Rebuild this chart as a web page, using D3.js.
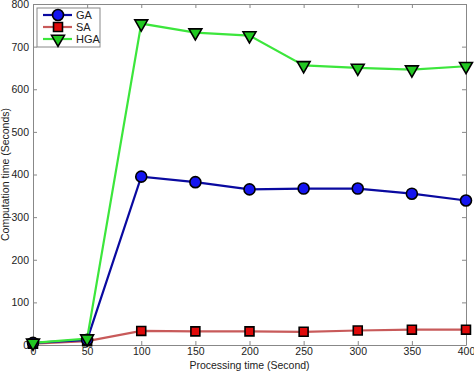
<!DOCTYPE html>
<html>
<head>
<meta charset="utf-8">
<script src="https://cdn.jsdelivr.net/npm/d3@7"></script>
<style>
  body { margin: 0; background: #fff; }
  text { font-family: "Liberation Sans", Arial, sans-serif; }
</style>
</head>
<body>
<div id="chart"></div>
<script>
const xValues = [0, 50, 100, 150, 200, 250, 300, 350, 400];
const gaValues = [5, 12, 395, 382, 365, 367, 367, 355, 339];
const saValues = [3, 9, 33, 32, 32, 31, 34, 36, 36];
const hgaValues = [5, 15, 754, 733, 726, 656, 650, 646, 654];
const xTicks = [0, 50, 100, 150, 200, 250, 300, 350, 400];
const yTicks = [0, 100, 200, 300, 400, 500, 600, 700, 800];

const W = 474, H = 371;
const margin = { top: 4, right: 8, bottom: 26, left: 33 };
const innerW = W - margin.left - margin.right;
const innerH = H - margin.top - margin.bottom;

const svg = d3.select("#chart").append("svg")
  .attr("width", W).attr("height", H);

const g = svg.append("g")
  .attr("transform", `translate(${margin.left},${margin.top})`);

const x = d3.scaleLinear().domain([0, 400]).range([0, innerW]);
const y = d3.scaleLinear().domain([0, 800]).range([innerH, 0]);

const axisColor = "#888";
const tickLen = 4;

// axes, MATLAB-style box with inward ticks
const styleAxis = sel => {
  sel.select(".domain").attr("stroke", axisColor);
  sel.selectAll(".tick line").attr("stroke", axisColor);
  sel.selectAll(".tick text").attr("fill", "#222").style("font-size", "10.5px");
};

g.append("g").attr("transform", `translate(0,${innerH})`)
  .call(d3.axisBottom(x).tickValues(xTicks).tickSizeInner(-tickLen).tickSizeOuter(0).tickPadding(3))
  .call(styleAxis);
g.append("g")
  .call(d3.axisTop(x).tickValues(xTicks).tickSizeInner(-tickLen).tickSizeOuter(0).tickFormat(""))
  .call(styleAxis);
g.append("g")
  .call(d3.axisLeft(y).tickValues(yTicks).tickSizeInner(-tickLen).tickSizeOuter(0).tickPadding(4))
  .call(styleAxis);
g.append("g").attr("transform", `translate(${innerW},0)`)
  .call(d3.axisRight(y).tickValues(yTicks).tickSizeInner(-tickLen).tickSizeOuter(0).tickFormat(""))
  .call(styleAxis);

// axis titles
svg.append("text")
  .attr("x", margin.left + innerW / 2).attr("y", H - 2)
  .attr("text-anchor", "middle").style("font-size", "10.5px").attr("fill", "#222")
  .text("Processing time (Second)");
svg.append("text")
  .attr("transform", `translate(9,${margin.top + innerH / 2}) rotate(-90)`)
  .attr("text-anchor", "middle").style("font-size", "10.5px").attr("fill", "#222")
  .text("Computation time (Seconds)");

const series = [
  { name: "GA", values: gaValues, line: "#0a0aa0", fill: "#1515f0", symbol: d3.symbolCircle, size: 95, rot: 0 },
  { name: "SA", values: saValues, line: "#c85a5a", fill: "#e00a0a", symbol: d3.symbolSquare, size: 80, rot: 0 },
  { name: "HGA", values: hgaValues, line: "#3ce63c", fill: "#22c822", symbol: d3.symbolTriangle, size: 72, rot: 180 }
];

const line = d3.line().x((d, i) => x(xValues[i])).y(d => y(d));

const drawOrder = [series[1], series[0], series[2]];
drawOrder.forEach(s => {
  g.append("path").datum(s.values)
    .attr("fill", "none").attr("stroke", s.line).attr("stroke-width", 2.2)
    .attr("d", line);
});
drawOrder.forEach(s => {
  g.selectAll(null).data(s.values).join("path")
    .attr("transform", (d, i) => `translate(${x(xValues[i])},${y(d)}) rotate(${s.rot})`)
    .attr("d", d3.symbol().type(s.symbol).size(s.size))
    .attr("fill", s.fill).attr("stroke", "#000").attr("stroke-width", 1.6);
});

// legend
const lg = g.append("g").attr("transform", "translate(4,4)");
lg.append("rect").attr("width", 63).attr("height", 39)
  .attr("fill", "#fff").attr("stroke", axisColor);
series.forEach((s, i) => {
  const ly = 7 + i * 12;
  lg.append("line").attr("x1", 6).attr("x2", 35).attr("y1", ly).attr("y2", ly)
    .attr("stroke", s.line).attr("stroke-width", 2.2);
  lg.append("path")
    .attr("transform", `translate(21,${ly}) rotate(${s.rot})`)
    .attr("d", d3.symbol().type(s.symbol).size(s.size))
    .attr("fill", s.fill).attr("stroke", "#000").attr("stroke-width", 1.6);
  lg.append("text").attr("x", 39).attr("y", ly + 4)
    .style("font-size", "11px").attr("fill", "#222").text(s.name);
});
</script>
</body>
</html>
